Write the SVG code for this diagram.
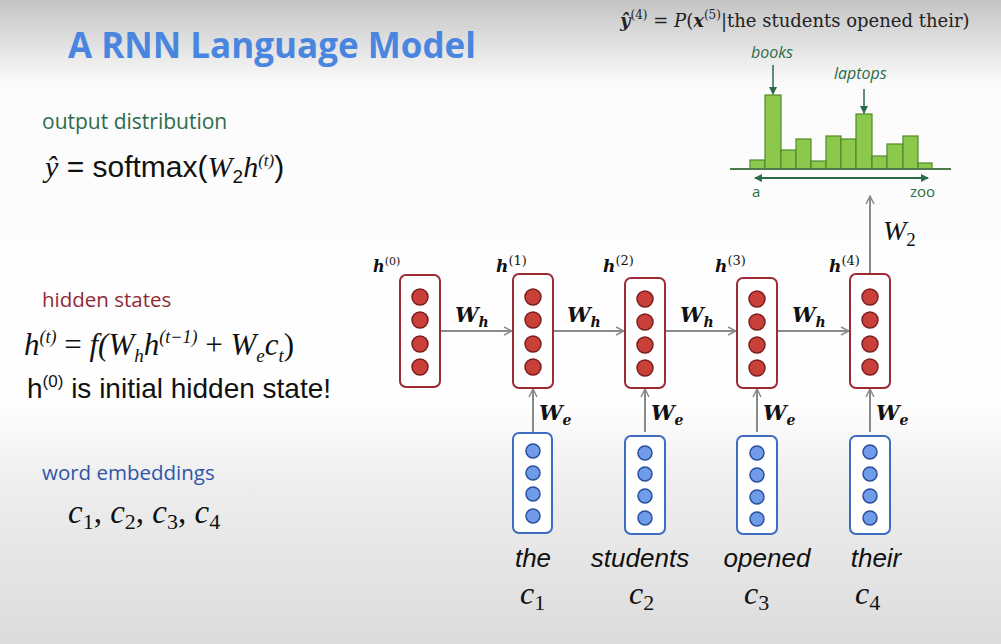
<svg xmlns="http://www.w3.org/2000/svg" width="1001" height="644" viewBox="0 0 1001 644">
<defs>
<linearGradient id="bg" x1="0" y1="0" x2="0" y2="1">
<stop offset="0" stop-color="#c4c4c4"/><stop offset="0.13" stop-color="#fbfbfb"/><stop offset="0.62" stop-color="#ffffff"/><stop offset="0.75" stop-color="#eeeeee"/><stop offset="1" stop-color="#dcdcdc"/>
</linearGradient>
<marker id="ag" markerWidth="10" markerHeight="10" refX="9" refY="5" orient="auto" markerUnits="userSpaceOnUse"><path d="M1,1 L9,5 L1,9" fill="none" stroke="#8a8a8a" stroke-width="1.5"/></marker>
<marker id="agr" markerWidth="8" markerHeight="8" refX="7" refY="4" orient="auto-start-reverse" markerUnits="userSpaceOnUse"><path d="M0,0 L8,4 L0,8 Z" fill="#2e6b4a"/></marker>
<style>
.hb{fill:#fff;stroke:#9e2a36;stroke-width:2}
.hd{fill:#c9403a;stroke:#7a1e1e;stroke-width:1.5}
.eb{fill:#fff;stroke:#3d6cc0;stroke-width:2}
.ed{fill:#6f9be8;stroke:#284f99;stroke-width:1.5}
.cn{stroke:#8a8a8a;stroke-width:2;fill:none;marker-end:url(#ag)}
.bar{fill:#8cc84b;stroke:#4f8a2a;stroke-width:1.2}
.m{font-family:'Liberation Serif',serif;font-style:italic;fill:#111}
.bm{font-family:'DejaVu Serif',serif;font-weight:bold;font-style:italic;fill:#111}
.s{font-family:'Liberation Sans',sans-serif;fill:#111}
.g{font-family:'Open Sans','Liberation Sans',sans-serif;fill:#2e6b4a}
</style>
</defs>
<rect width="1001" height="644" fill="url(#bg)"/>
<text x="68" y="58" font-family="'Open Sans','Liberation Sans',sans-serif" font-weight="bold" font-size="35" fill="#4a86e0">A RNN Language Model</text>
<text x="42" y="129" class="g" font-size="21">output distribution</text>
<text x="45" y="177" font-size="30"><tspan class="m">ŷ</tspan><tspan class="s"> = softmax(</tspan><tspan class="m">W</tspan><tspan class="s" font-size="19" dy="6">2</tspan><tspan class="m" dy="-6">h</tspan><tspan class="m" font-size="17" dy="-11">(t)</tspan><tspan class="s" dy="11">)</tspan></text>
<text x="42" y="307" font-family="'Open Sans','Liberation Sans',sans-serif" font-size="20.5" fill="#8f2a36">hidden states</text>
<text x="24" y="355" font-size="31" class="m">h<tspan font-size="18" dy="-12">(t)</tspan><tspan dy="12" font-style="normal"> = </tspan>f(W<tspan font-size="19" dy="7">h</tspan><tspan dy="-7">h</tspan><tspan font-size="18" dy="-12">(t−1)</tspan><tspan dy="12" font-style="normal"> + </tspan>W<tspan font-size="19" dy="7">e</tspan><tspan dy="-7">c</tspan><tspan font-size="19" dy="7">t</tspan><tspan dy="-7" font-style="normal">)</tspan></text>
<text x="27" y="398" class="s" font-size="28">h<tspan font-size="17" dy="-11">(0)</tspan><tspan dy="11"> is initial hidden state!</tspan></text>
<text x="42" y="480" font-family="'Open Sans','Liberation Sans',sans-serif" font-size="20.5" fill="#2f55a8">word embeddings</text>
<text x="68" y="523" class="m" font-size="33">c<tspan font-style="normal" font-size="22" dy="6">1</tspan><tspan dy="-6" font-style="normal">, </tspan>c<tspan font-style="normal" font-size="22" dy="6">2</tspan><tspan dy="-6" font-style="normal">, </tspan>c<tspan font-style="normal" font-size="22" dy="6">3</tspan><tspan dy="-6" font-style="normal">, </tspan>c<tspan font-style="normal" font-size="22" dy="6">4</tspan></text>
<text x="620" y="27" font-family="'DejaVu Serif',serif" font-size="18" fill="#222"><tspan font-weight="bold" font-style="italic">ŷ</tspan><tspan font-size="12" dy="-8">(4)</tspan><tspan dy="8"> = </tspan><tspan font-style="italic">P</tspan>(<tspan font-weight="bold" font-style="italic">x</tspan><tspan font-size="12" dy="-8">(5)</tspan><tspan dy="8">|the students opened their)</tspan></text>
<g id="histogram">
<rect class="bar" x="750" y="160" width="15" height="9"/>
<rect class="bar" x="765" y="95" width="16" height="74"/>
<rect class="bar" x="781" y="150" width="15" height="19"/>
<rect class="bar" x="796" y="139" width="15" height="30"/>
<rect class="bar" x="811" y="161" width="15" height="8"/>
<rect class="bar" x="826" y="136" width="15" height="33"/>
<rect class="bar" x="841" y="139" width="15" height="30"/>
<rect class="bar" x="856" y="114" width="16" height="55"/>
<rect class="bar" x="872" y="156" width="15" height="13"/>
<rect class="bar" x="887" y="144" width="16" height="25"/>
<rect class="bar" x="903" y="136" width="15" height="33"/>
<rect class="bar" x="918" y="163" width="14" height="6"/>
<line x1="730" y1="169" x2="951" y2="169" stroke="#4f7a4a" stroke-width="2"/>
<line x1="755" y1="178" x2="928" y2="178" stroke="#2e6b4a" stroke-width="2" marker-start="url(#agr)" marker-end="url(#agr)"/>
<text x="752" y="197" class="g" font-size="15">a</text>
<text x="910" y="197" class="g" font-size="15">zoo</text>
<text x="751" y="58" class="g" font-size="16" font-style="italic">books</text>
<text x="834" y="79" class="g" font-size="16" font-style="italic">laptops</text>
<line x1="773" y1="65" x2="773" y2="94" stroke="#2e6b4a" stroke-width="1.5" marker-end="url(#agr)"/>
<line x1="864" y1="89" x2="864" y2="113" stroke="#2e6b4a" stroke-width="1.5" marker-end="url(#agr)"/>
</g>
<g id="connectors">
<path class="cn" d="M440,331 H512"/>
<path class="cn" d="M553,331 H624"/>
<path class="cn" d="M665,331 H736"/>
<path class="cn" d="M777,331 H849"/>
<path class="cn" d="M533,432 V389"/>
<path class="cn" d="M645,432 V389"/>
<path class="cn" d="M757,432 V389"/>
<path class="cn" d="M870,432 V389"/>
<path class="cn" d="M870,274 V196"/>
</g>
<g id="labels" class="bm" font-size="21">
<text x="455" y="322">W<tspan font-size="14" dy="5">h</tspan></text>
<text x="567" y="322">W<tspan font-size="14" dy="5">h</tspan></text>
<text x="680" y="322">W<tspan font-size="14" dy="5">h</tspan></text>
<text x="792" y="322">W<tspan font-size="14" dy="5">h</tspan></text>
<text x="539" y="420">W<tspan font-size="14" dy="5">e</tspan></text>
<text x="651" y="420">W<tspan font-size="14" dy="5">e</tspan></text>
<text x="763" y="420">W<tspan font-size="14" dy="5">e</tspan></text>
<text x="876" y="420">W<tspan font-size="14" dy="5">e</tspan></text>
<text x="883" y="240" class="m" font-size="28" font-weight="normal">W<tspan font-style="normal" font-size="19" dy="6">2</tspan></text>
<text x="373" y="272" font-size="16">h<tspan font-size="11" dy="-7" font-weight="normal" font-style="normal">(0)</tspan></text>
<text x="496" y="272" font-size="17">h<tspan font-size="13" dy="-7" font-weight="normal" font-style="normal">(1)</tspan></text>
<text x="603" y="272" font-size="17">h<tspan font-size="13" dy="-7" font-weight="normal" font-style="normal">(2)</tspan></text>
<text x="715" y="272" font-size="17">h<tspan font-size="13" dy="-7" font-weight="normal" font-style="normal">(3)</tspan></text>
<text x="829" y="272" font-size="17">h<tspan font-size="13" dy="-7" font-weight="normal" font-style="normal">(4)</tspan></text>
</g>
<g id="h0"><rect class="hb" x="400" y="275" width="40" height="112" rx="6"/><circle class="hd" cx="420" cy="297" r="8"/><circle class="hd" cx="420" cy="320" r="8"/><circle class="hd" cx="420" cy="344" r="8"/><circle class="hd" cx="420" cy="367" r="8"/></g>
<g id="h1"><rect class="hb" x="513" y="274" width="40" height="114" rx="6"/><circle class="hd" cx="533" cy="297" r="8"/><circle class="hd" cx="533" cy="320" r="8"/><circle class="hd" cx="533" cy="344" r="8"/><circle class="hd" cx="533" cy="367" r="8"/></g>
<g id="h2"><rect class="hb" x="625" y="278" width="40" height="110" rx="6"/><circle class="hd" cx="645" cy="299" r="8"/><circle class="hd" cx="645" cy="322" r="8"/><circle class="hd" cx="645" cy="345" r="8"/><circle class="hd" cx="645" cy="368" r="8"/></g>
<g id="h3"><rect class="hb" x="737" y="278" width="40" height="110" rx="6"/><circle class="hd" cx="757" cy="299" r="8"/><circle class="hd" cx="757" cy="322" r="8"/><circle class="hd" cx="757" cy="345" r="8"/><circle class="hd" cx="757" cy="368" r="8"/></g>
<g id="h4"><rect class="hb" x="850" y="274" width="40" height="114" rx="6"/><circle class="hd" cx="870" cy="297" r="8"/><circle class="hd" cx="870" cy="320" r="8"/><circle class="hd" cx="870" cy="344" r="8"/><circle class="hd" cx="870" cy="367" r="8"/></g>
<g id="e1"><rect class="eb" x="513" y="433" width="39" height="100" rx="6"/><circle class="ed" cx="533" cy="451" r="7"/><circle class="ed" cx="533" cy="473" r="7"/><circle class="ed" cx="533" cy="494" r="7"/><circle class="ed" cx="533" cy="516" r="7"/></g>
<g id="e2"><rect class="eb" x="625" y="436" width="40" height="98" rx="6"/><circle class="ed" cx="645" cy="453" r="7"/><circle class="ed" cx="645" cy="474" r="7"/><circle class="ed" cx="645" cy="496" r="7"/><circle class="ed" cx="645" cy="518" r="7"/></g>
<g id="e3"><rect class="eb" x="737" y="436" width="40" height="98" rx="6"/><circle class="ed" cx="757" cy="453" r="7"/><circle class="ed" cx="757" cy="475" r="7"/><circle class="ed" cx="757" cy="497" r="7"/><circle class="ed" cx="757" cy="519" r="7"/></g>
<g id="e4"><rect class="eb" x="850" y="436" width="40" height="98" rx="6"/><circle class="ed" cx="870" cy="452" r="7"/><circle class="ed" cx="870" cy="474" r="7"/><circle class="ed" cx="870" cy="496" r="7"/><circle class="ed" cx="870" cy="518" r="7"/></g>
<g id="words" class="s" font-size="26" font-style="italic" text-anchor="middle">
<text x="533" y="567">the</text><text x="640" y="567">students</text><text x="767" y="567">opened</text><text x="876" y="567">their</text>
</g>
<g id="clabels" class="m" font-size="32">
<text x="520" y="604">c<tspan font-style="normal" font-size="22" dy="6">1</tspan></text>
<text x="629" y="604">c<tspan font-style="normal" font-size="22" dy="6">2</tspan></text>
<text x="744" y="604">c<tspan font-style="normal" font-size="22" dy="6">3</tspan></text>
<text x="855" y="604">c<tspan font-style="normal" font-size="22" dy="6">4</tspan></text>
</g>
</svg>
